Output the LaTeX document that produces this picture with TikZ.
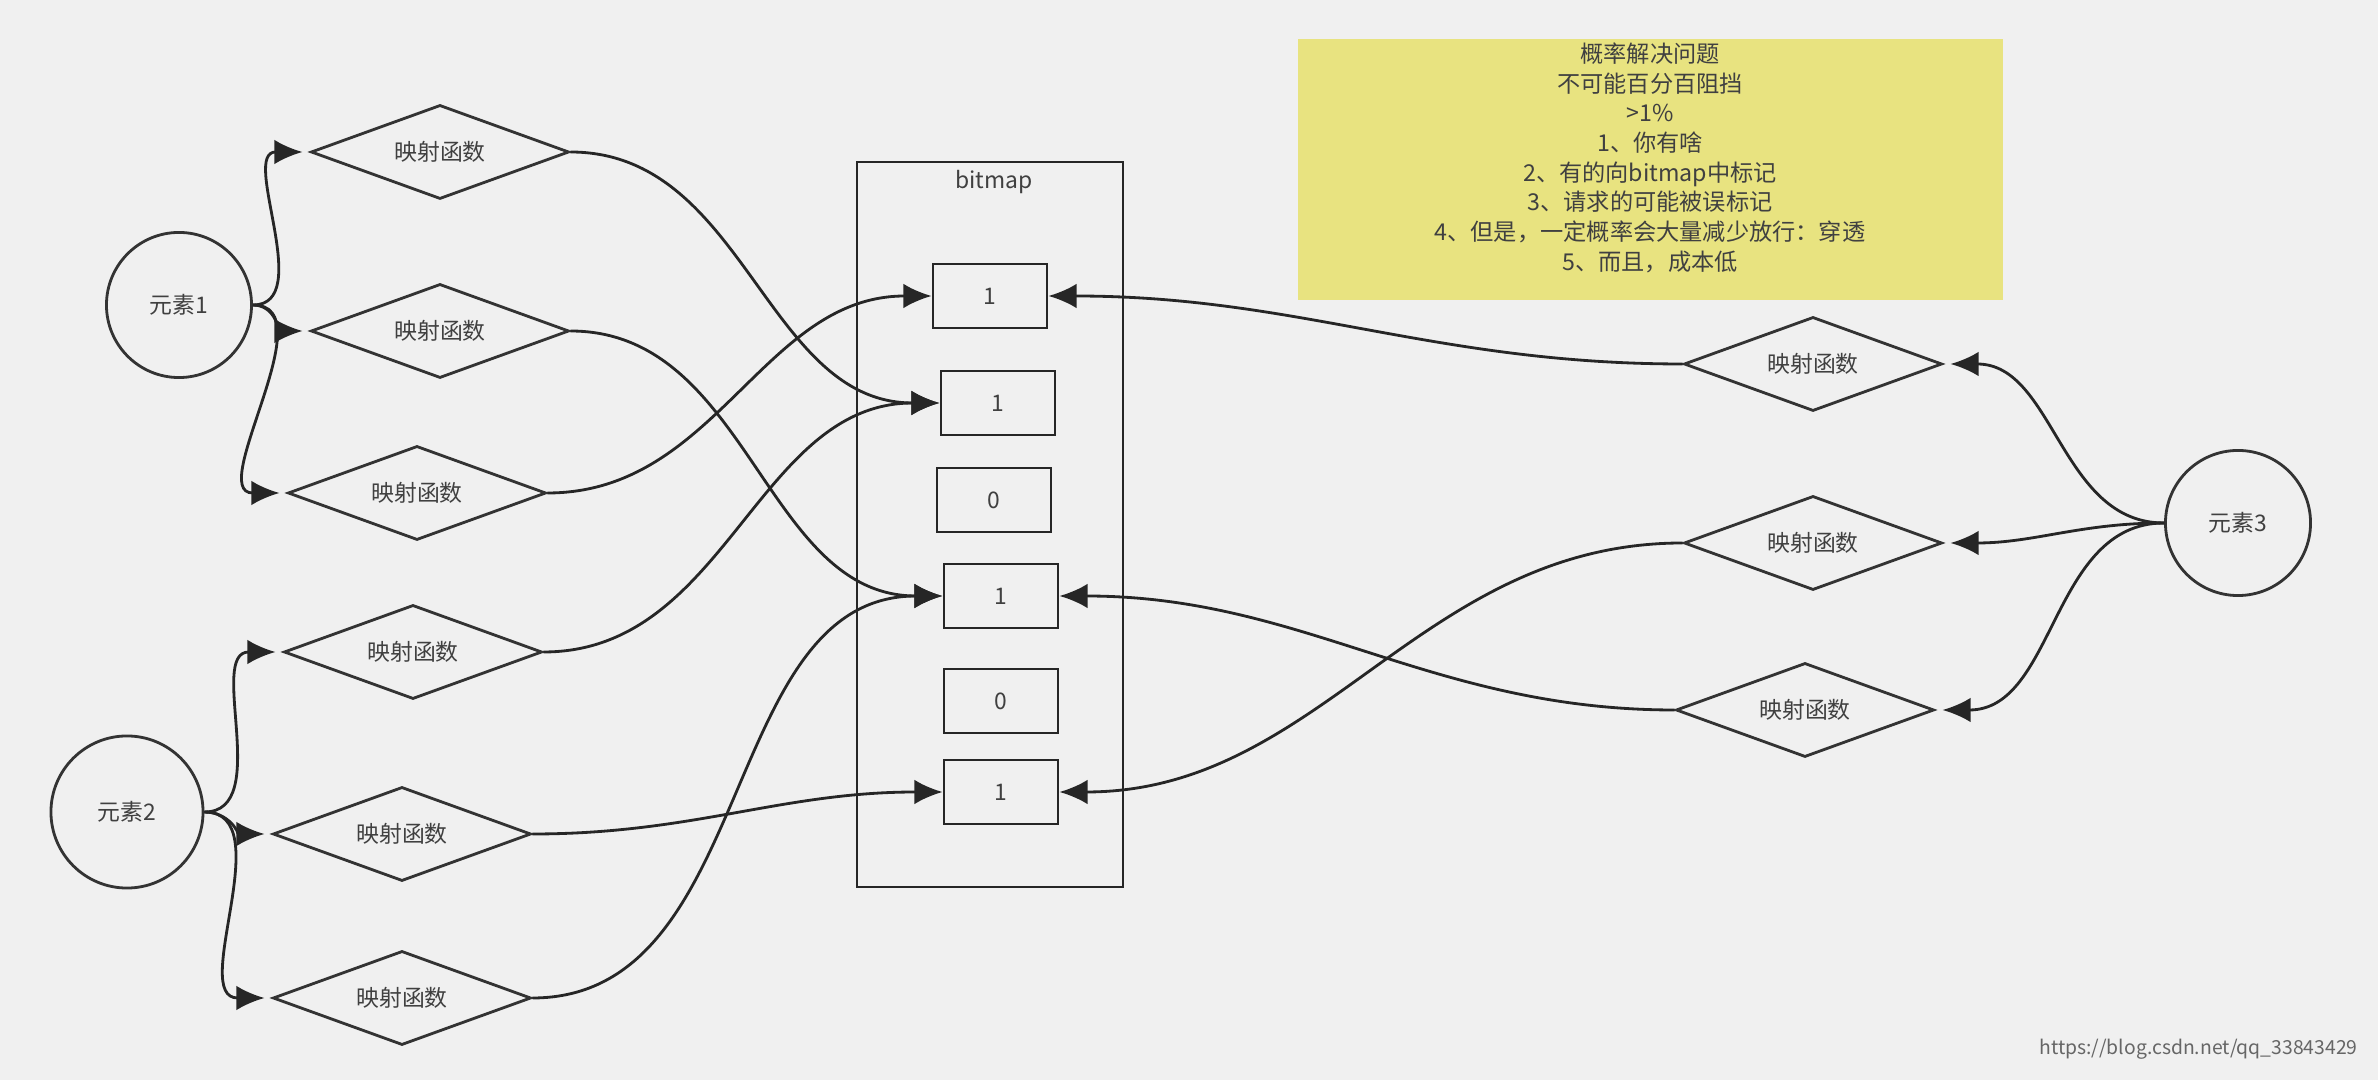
\documentclass[tikz,border=0pt]{standalone}
\usepackage{fontspec}
\setmainfont{Noto Sans CJK SC}
\usetikzlibrary{shapes.geometric,arrows.meta}
\begin{document}
\begin{tikzpicture}[x=0.01cm,y=-0.01cm,
  every node/.style={font=\fontsize{6.5}{8}\selectfont, text=black!75},
  elem/.style={circle,draw=black!80,thick,minimum size=1.45cm,inner sep=0pt},
  func/.style={diamond,draw=black!80,thick,minimum width=2.58cm,minimum height=0.94cm,aspect=2.7,inner sep=0pt},
  cell/.style={rectangle,draw=black!85,thick,minimum width=1.14cm,minimum height=0.64cm},
  conn/.style={thick,black!85,-{Latex[length=8pt,width=7pt]}}]
\fill[gray!12] (0,0) rectangle (2378,1080);
\useasboundingbox (0,0) rectangle (2378,1080);
\node[fill=yellow!55!olive!45,minimum width=7.05cm,minimum height=2.61cm,anchor=north west] (note) at (1297,38) {};
\node[align=center,font=\fontsize{6.6}{8.45}\selectfont,anchor=north,inner sep=0pt] (notetext) at (1650,42) {概率解决问题\\不可能百分百阻挡\\>1\%\\1、你有啥\\2、有的向bitmap中标记\\3、请求的可能被误标记\\4、但是，一定概率会大量减少放行：穿透\\5、而且，成本低};
\draw[thick,black!85] (857,162) rectangle (1123,887);
\node (bm) at (994,182) {bitmap};
\node[cell] (c1) at (990,296) {1};
\node[cell] (c2) at (998,403) {1};
\node[cell] (c3) at (994,500) {0};
\node[cell] (c4) at (1001,596) {1};
\node[cell] (c5) at (1001,701) {0};
\node[cell] (c6) at (1001,792) {1};
\node[elem] (e1) at (179,305) {元素1};
\node[elem,minimum size=1.52cm] (e2) at (127,812) {元素2};
\node[elem] (e3) at (2238,523) {元素3};
\node[func] (a1) at (440,152) {映射函数};
\node[func] (a2) at (440,331) {映射函数};
\node[func] (a3) at (417,493) {映射函数};
\node[func] (b1) at (413,652) {映射函数};
\node[func] (b2) at (402,834) {映射函数};
\node[func] (b3) at (402,998) {映射函数};
\node[func] (r1) at (1813,364) {映射函数};
\node[func] (r2) at (1813,543) {映射函数};
\node[func] (r3) at (1805,710) {映射函数};
\foreach \d in {a1,a2,a3} \draw[conn] (e1.east) to[out=0,in=180] ([xshift=-2]\d.west);
\foreach \d in {b1,b2,b3} \draw[conn] (e2.east) to[out=0,in=180] ([xshift=-2]\d.west);
\foreach \d in {r1,r2,r3} \draw[conn] (e3.west) to[out=180,in=0] ([xshift=2]\d.east);
\draw[conn] (a1.east) to[out=0,in=180] (c2.west);
\draw[conn] (a2.east) to[out=0,in=180] (c4.west);
\draw[conn] (a3.east) to[out=0,in=180] (c1.west);
\draw[conn] (b1.east) to[out=0,in=180] (c2.west);
\draw[conn] (b2.east) to[out=0,in=180] (c6.west);
\draw[conn] (b3.east) to[out=0,in=180] (c4.west);
\draw[conn] (r1.west) to[out=180,in=0] (c1.east);
\draw[conn] (r2.west) to[out=180,in=0] (c6.east);
\draw[conn] (r3.west) to[out=180,in=0] (c4.east);
\node[anchor=south east,font=\fontsize{5.5}{7}\selectfont,text=black!60] (wm) at (2370,1072) {https://blog.csdn.net/qq\_33843429};
\end{tikzpicture}
\end{document}
